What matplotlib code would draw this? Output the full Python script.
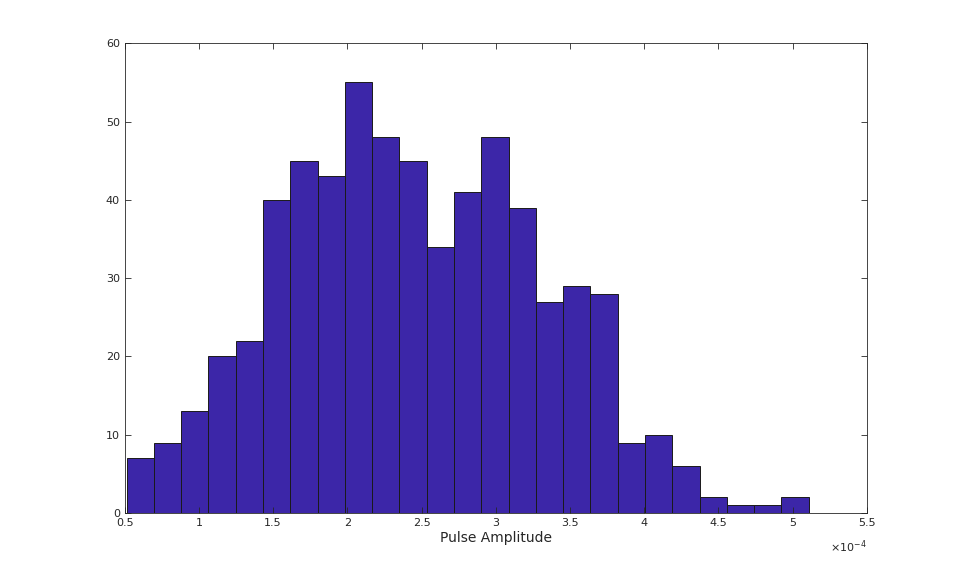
import matplotlib
matplotlib.use("Agg")
import matplotlib.pyplot as plt
import numpy as np

counts = [7, 9, 13, 20, 22, 40, 45, 43, 55, 48, 45, 34, 41, 48, 39, 27, 29, 28, 9, 10, 6, 2, 1, 1, 2]
bin_start = 0.513e-4
bin_width = 0.1838e-4
edges = bin_start + bin_width * np.arange(len(counts) + 1)

fig = plt.figure(figsize=(9.59, 5.77), dpi=100)
ax = fig.add_axes([0.130, 0.111, 0.774, 0.814])
ax.bar(edges[:-1], counts, width=bin_width, align='edge', color='#3c26a8',
       edgecolor='#1a1a1a', linewidth=0.7)
ax.set_xlim(0.5e-4, 5.5e-4)
ax.set_ylim(0, 60)
xt = np.arange(0.5, 5.51, 0.5)
ax.set_xticks(xt * 1e-4)
ax.set_xticklabels([f"{v:g}" for v in xt])
ax.set_yticks(range(0, 61, 10))
ax.tick_params(direction='in', top=True, right=True, labelsize=8, length=4, width=0.6, colors='#262626')
for s in ax.spines.values():
    s.set_linewidth(0.6)
    s.set_color('#262626')
ax.set_xlabel('Pulse Amplitude', fontsize=10, color='#262626', labelpad=2)
ax.text(1.0, -0.055, r'$\times10^{-4}$', transform=ax.transAxes, ha='right', va='top', fontsize=8, color='#262626')
fig.savefig('out.png', dpi=100)
